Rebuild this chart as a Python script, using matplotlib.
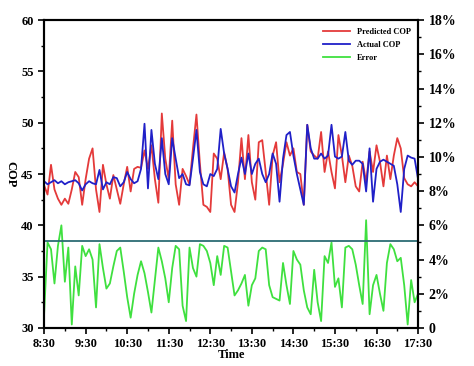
import numpy as np
import matplotlib
matplotlib.use('Agg')
import matplotlib.pyplot as plt
from matplotlib.ticker import MultipleLocator, FuncFormatter

# 5-minute samples from 8:30 to 17:30
predicted_cop = [
    43.9, 43.0, 45.9, 43.5, 42.6, 42.0, 42.6, 42.1, 43.5, 45.2,
    44.7, 42.0, 44.5, 46.5, 47.5, 43.5, 41.3, 45.9, 44.0, 42.6,
    44.9, 43.5, 42.1, 44.0, 45.7, 43.3, 45.5, 45.7, 45.6, 47.3,
    45.5, 47.8, 44.5, 42.2, 50.9, 46.5, 44.5, 50.2, 44.0, 42.0,
    45.5, 44.8, 44.0, 47.5, 50.8, 46.0, 42.0, 41.8, 41.3, 47.0,
    46.5, 44.5, 47.1, 45.5, 42.0, 41.3, 44.2, 48.5, 44.5, 48.8,
    44.2, 42.5, 48.1, 48.3, 45.2, 42.0, 46.8, 48.1, 44.2, 46.0,
    48.1, 46.8, 47.5, 45.2, 45.0, 42.0, 49.8, 47.2, 46.8, 46.5,
    49.1, 45.2, 47.2, 45.2, 43.6, 48.8, 46.8, 44.2, 46.8, 45.8,
    43.8, 43.3, 46.2, 44.2, 47.2, 45.2, 47.8, 46.2, 43.8, 46.8,
    44.5, 46.8, 48.5, 47.5, 44.6, 44.0, 43.8, 44.2, 43.8,
]
actual_cop = [
    44.3, 44.0, 44.2, 44.4, 44.1, 44.3, 44.0, 44.2, 44.3, 44.4,
    44.1, 43.4, 44.0, 44.3, 44.1, 44.0, 45.4, 43.5, 44.2, 44.0,
    44.7, 44.6, 43.8, 44.2, 45.2, 44.5, 44.1, 44.3, 45.5, 49.9,
    43.6, 49.3, 46.0, 44.5, 48.5, 45.0, 44.0, 48.5, 46.5, 44.6,
    45.0, 44.0, 43.9, 46.5, 49.3, 45.2, 44.0, 43.8, 45.0, 44.8,
    45.5, 49.4, 47.0, 45.5, 43.8, 43.2, 45.0, 46.6, 45.0, 47.0,
    45.0, 46.0, 46.5, 45.0, 44.2, 45.0, 47.0, 46.0, 42.3, 46.5,
    48.8, 49.1, 46.8, 45.0, 43.5, 42.0, 49.8, 47.5, 46.5, 46.5,
    47.0, 46.5, 46.8, 49.8, 46.7, 46.5, 46.7, 49.1, 46.3, 45.9,
    46.3, 46.3, 46.0, 43.3, 47.5, 42.3, 45.5, 46.2, 46.4, 46.2,
    46.0, 45.8, 44.0, 41.3, 45.5, 46.8, 46.6, 46.5, 44.5,
]
error_pct = [
    0.8, 5.0, 4.6, 2.6, 4.8, 6.0, 2.7, 4.7, 0.2, 3.6,
    1.9, 4.8, 4.2, 4.6, 4.0, 1.2, 4.9, 3.5, 2.3, 2.6,
    3.6, 4.5, 4.7, 3.3, 1.8, 0.6, 2.0, 3.1, 3.9, 3.2,
    2.1, 0.9, 2.8, 4.7, 3.9, 2.9, 1.5, 3.5, 4.8, 4.6,
    1.3, 0.4, 4.7, 3.5, 3.0, 4.9, 4.8, 4.5, 3.8, 2.5,
    4.2, 3.1, 4.8, 4.7, 3.3, 1.9, 2.2, 2.6, 3.1, 1.3,
    2.5, 2.9, 4.5, 4.7, 4.6, 2.5, 1.8, 1.7, 1.6, 3.8,
    2.5, 1.4, 4.5, 4.0, 3.7, 2.2, 1.2, 0.8, 3.4, 1.5,
    0.4, 4.2, 3.8, 5.0, 2.4, 2.9, 1.2, 4.7, 4.8, 4.6,
    3.7, 2.5, 1.4, 6.3, 0.8, 2.5, 3.1, 2.0, 1.0, 3.8,
    4.9, 4.6, 3.9, 4.1, 2.5, 0.2, 2.8, 1.5, 2.0,
]
error_limit = 5.1  # percent
time_labels = ['8:30', '9:30', '10:30', '11:30', '12:30',
               '13:30', '14:30', '15:30', '16:30', '17:30']

plt.rcParams['font.family'] = ['Liberation Serif', 'DejaVu Serif']
plt.rcParams['font.weight'] = 'bold'

n = len(actual_cop)
t = np.linspace(8.5, 17.5, n)

fig = plt.figure(figsize=(4.74, 3.66), dpi=100)
ax = fig.add_axes([0.093, 0.104, 0.789, 0.841])
ax2 = ax.twinx()

l1, = ax.plot(t, predicted_cop, color='#e43a3a', lw=1.3, label='Predicted COP')
l2, = ax.plot(t, actual_cop, color='#2020c8', lw=1.3, label='Actual COP')
l3, = ax2.plot(t, error_pct, color='#3fe03f', lw=1.3, label='Error')
ax2.axhline(error_limit, color='#2c6c74', lw=1.3)

ax.set_xlim(8.5, 17.5)
ax.set_ylim(30, 60)
ax2.set_ylim(0, 18)

hours = np.arange(8.5, 17.6, 1.0)
ax.set_xticks(hours)
ax.set_xticklabels(time_labels)
ax.xaxis.set_minor_locator(MultipleLocator(0.5))
ax.yaxis.set_major_locator(MultipleLocator(5))
ax.yaxis.set_minor_locator(MultipleLocator(2.5))
ax2.yaxis.set_major_locator(MultipleLocator(2))
ax2.yaxis.set_minor_locator(MultipleLocator(1))
ax2.yaxis.set_major_formatter(FuncFormatter(lambda v, p: '0' if v == 0 else '%d%%' % v))

for a in (ax, ax2):
    a.tick_params(which='major', length=4, width=1.2, labelsize=9, direction='out')
    a.tick_params(which='minor', length=2.5, width=1.0, direction='out')
    for s in a.spines.values():
        s.set_linewidth(1.5)
ax2.tick_params(axis='y', labelsize=10)

ax.set_xlabel('Time', fontsize=9, fontweight='bold', labelpad=0)
ax.xaxis.set_label_coords(0.5, -0.07)
ax.set_ylabel('COP', fontsize=9, fontweight='bold', rotation=270, labelpad=12)

leg = ax2.legend(handles=[l1, l2, l3], loc='upper right', frameon=False,
                 prop={'size': 6, 'weight': 'bold'}, handlelength=3.2,
                 borderaxespad=0.5, labelspacing=0.6)

fig.savefig('out.png', dpi=100)
